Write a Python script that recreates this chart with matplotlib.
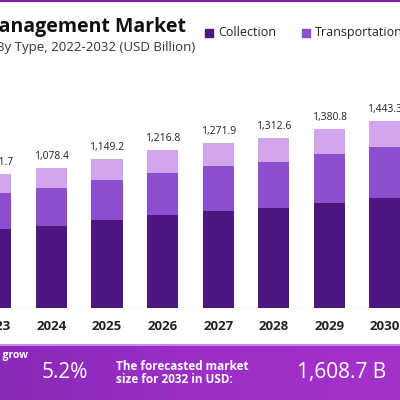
import numpy as np
import matplotlib
matplotlib.use("Agg")
import matplotlib.pyplot as plt
from matplotlib.colors import LinearSegmentedColormap

years = ["2023", "2024", "2025", "2026", "2027", "2028", "2029", "2030"]
totals = [1031.7, 1078.4, 1149.2, 1216.8, 1271.9, 1312.6, 1380.8, 1443.3]
collection = [609, 633, 679, 718, 748, 773, 812, 848]
transportation = [281, 293, 309, 326, 348, 355, 376, 394]
other = [t - c - tr for t, c, tr in zip(totals, collection, transportation)]

c_dark = "#4e1680"
c_mid = "#8c4dce"
c_light = "#d2a6ec"

plt.rcParams['font.family'] = ['Open Sans', 'DejaVu Sans']

fig = plt.figure(figsize=(4, 4), dpi=100)
fig.patch.set_facecolor("white")

################################################################################
# bars
ax = fig.add_axes([0, 0.23, 1, 0.69])
x = np.arange(len(years))
ax.bar(x, collection, width=0.56, color=c_dark, zorder=2)
ax.bar(x, transportation, width=0.56, bottom=collection, color=c_mid, zorder=2)
bot2 = [c + t for c, t in zip(collection, transportation)]
ax.bar(x, other, width=0.56, bottom=bot2, color=c_light, zorder=2)

for xi, t in zip(x, totals):
    ax.text(xi, t + 45, "{:,.1f}".format(t), ha="center", va="bottom",
            fontsize=7.5, color="#222222")

for xi, y in zip(x, years):
    ax.text(xi, -90, y, ha="center", va="top", fontsize=9.5, fontweight="bold",
            color="#222222")

ax.axhline(0, color="#d8d8d8", lw=1, zorder=1)
ax.set_xlim(0.074, 7.27)
ax.set_ylim(0, 2130)
ax.axis("off")

################################################################################
# title + legend
fig.text(0.465, 0.932, "Waste Management Market", ha="right", va="center",
         fontsize=14, fontweight="bold", color="#111111")
fig.text(0.488, 0.882, "By Type, 2022-2032 (USD Billion)", ha="right", va="center",
         fontsize=9.5, color="#333333")

fig.patches.append(plt.Rectangle((0.513, 0.908), 0.02, 0.02, color=c_dark,
                                 transform=fig.transFigure, figure=fig))
fig.text(0.545, 0.918, "Collection", ha="left", va="center", fontsize=9, color="#222222")
fig.patches.append(plt.Rectangle((0.755, 0.908), 0.02, 0.02, color=c_mid,
                                 transform=fig.transFigure, figure=fig))
fig.text(0.787, 0.918, "Transportation", ha="left", va="center", fontsize=9, color="#222222")

# thin line at top
fig.add_artist(plt.Line2D([0, 1], [0.997, 0.997], color="#7b22b0", lw=1.5,
                          transform=fig.transFigure))

################################################################################
# bottom band
band = fig.add_axes([0, 0, 1, 0.136])
grad = np.linspace(0, 1, 256).reshape(1, -1)
cmap = LinearSegmentedColormap.from_list("band", ["#8a28b8", "#9c2fc8", "#a531cc"])
band.imshow(grad, aspect="auto", cmap=cmap, extent=[0, 1, 0, 1])
band.set_xlim(0, 1)
band.set_ylim(0, 1)
band.axis("off")
fig.add_artist(plt.Line2D([0, 1], [0.137, 0.137], color="#c070e0", lw=1.2,
                          transform=fig.transFigure))

fig.text(0.07, 0.112, "Expected to grow", ha="right", va="center", fontsize=7.5,
         fontweight="bold", color="white")
fig.text(0.105, 0.068, "5.2%", ha="left", va="center", fontsize=15, color="white")
fig.text(0.29, 0.068, "The forecasted market\nsize for 2032 in USD:", ha="left",
         va="center", fontsize=8.5, fontweight="bold", color="white", linespacing=1.0)
fig.text(0.742, 0.068, "1,608.7 B", ha="left", va="center", fontsize=15, color="white")

plt.savefig("out.png", dpi=100)
